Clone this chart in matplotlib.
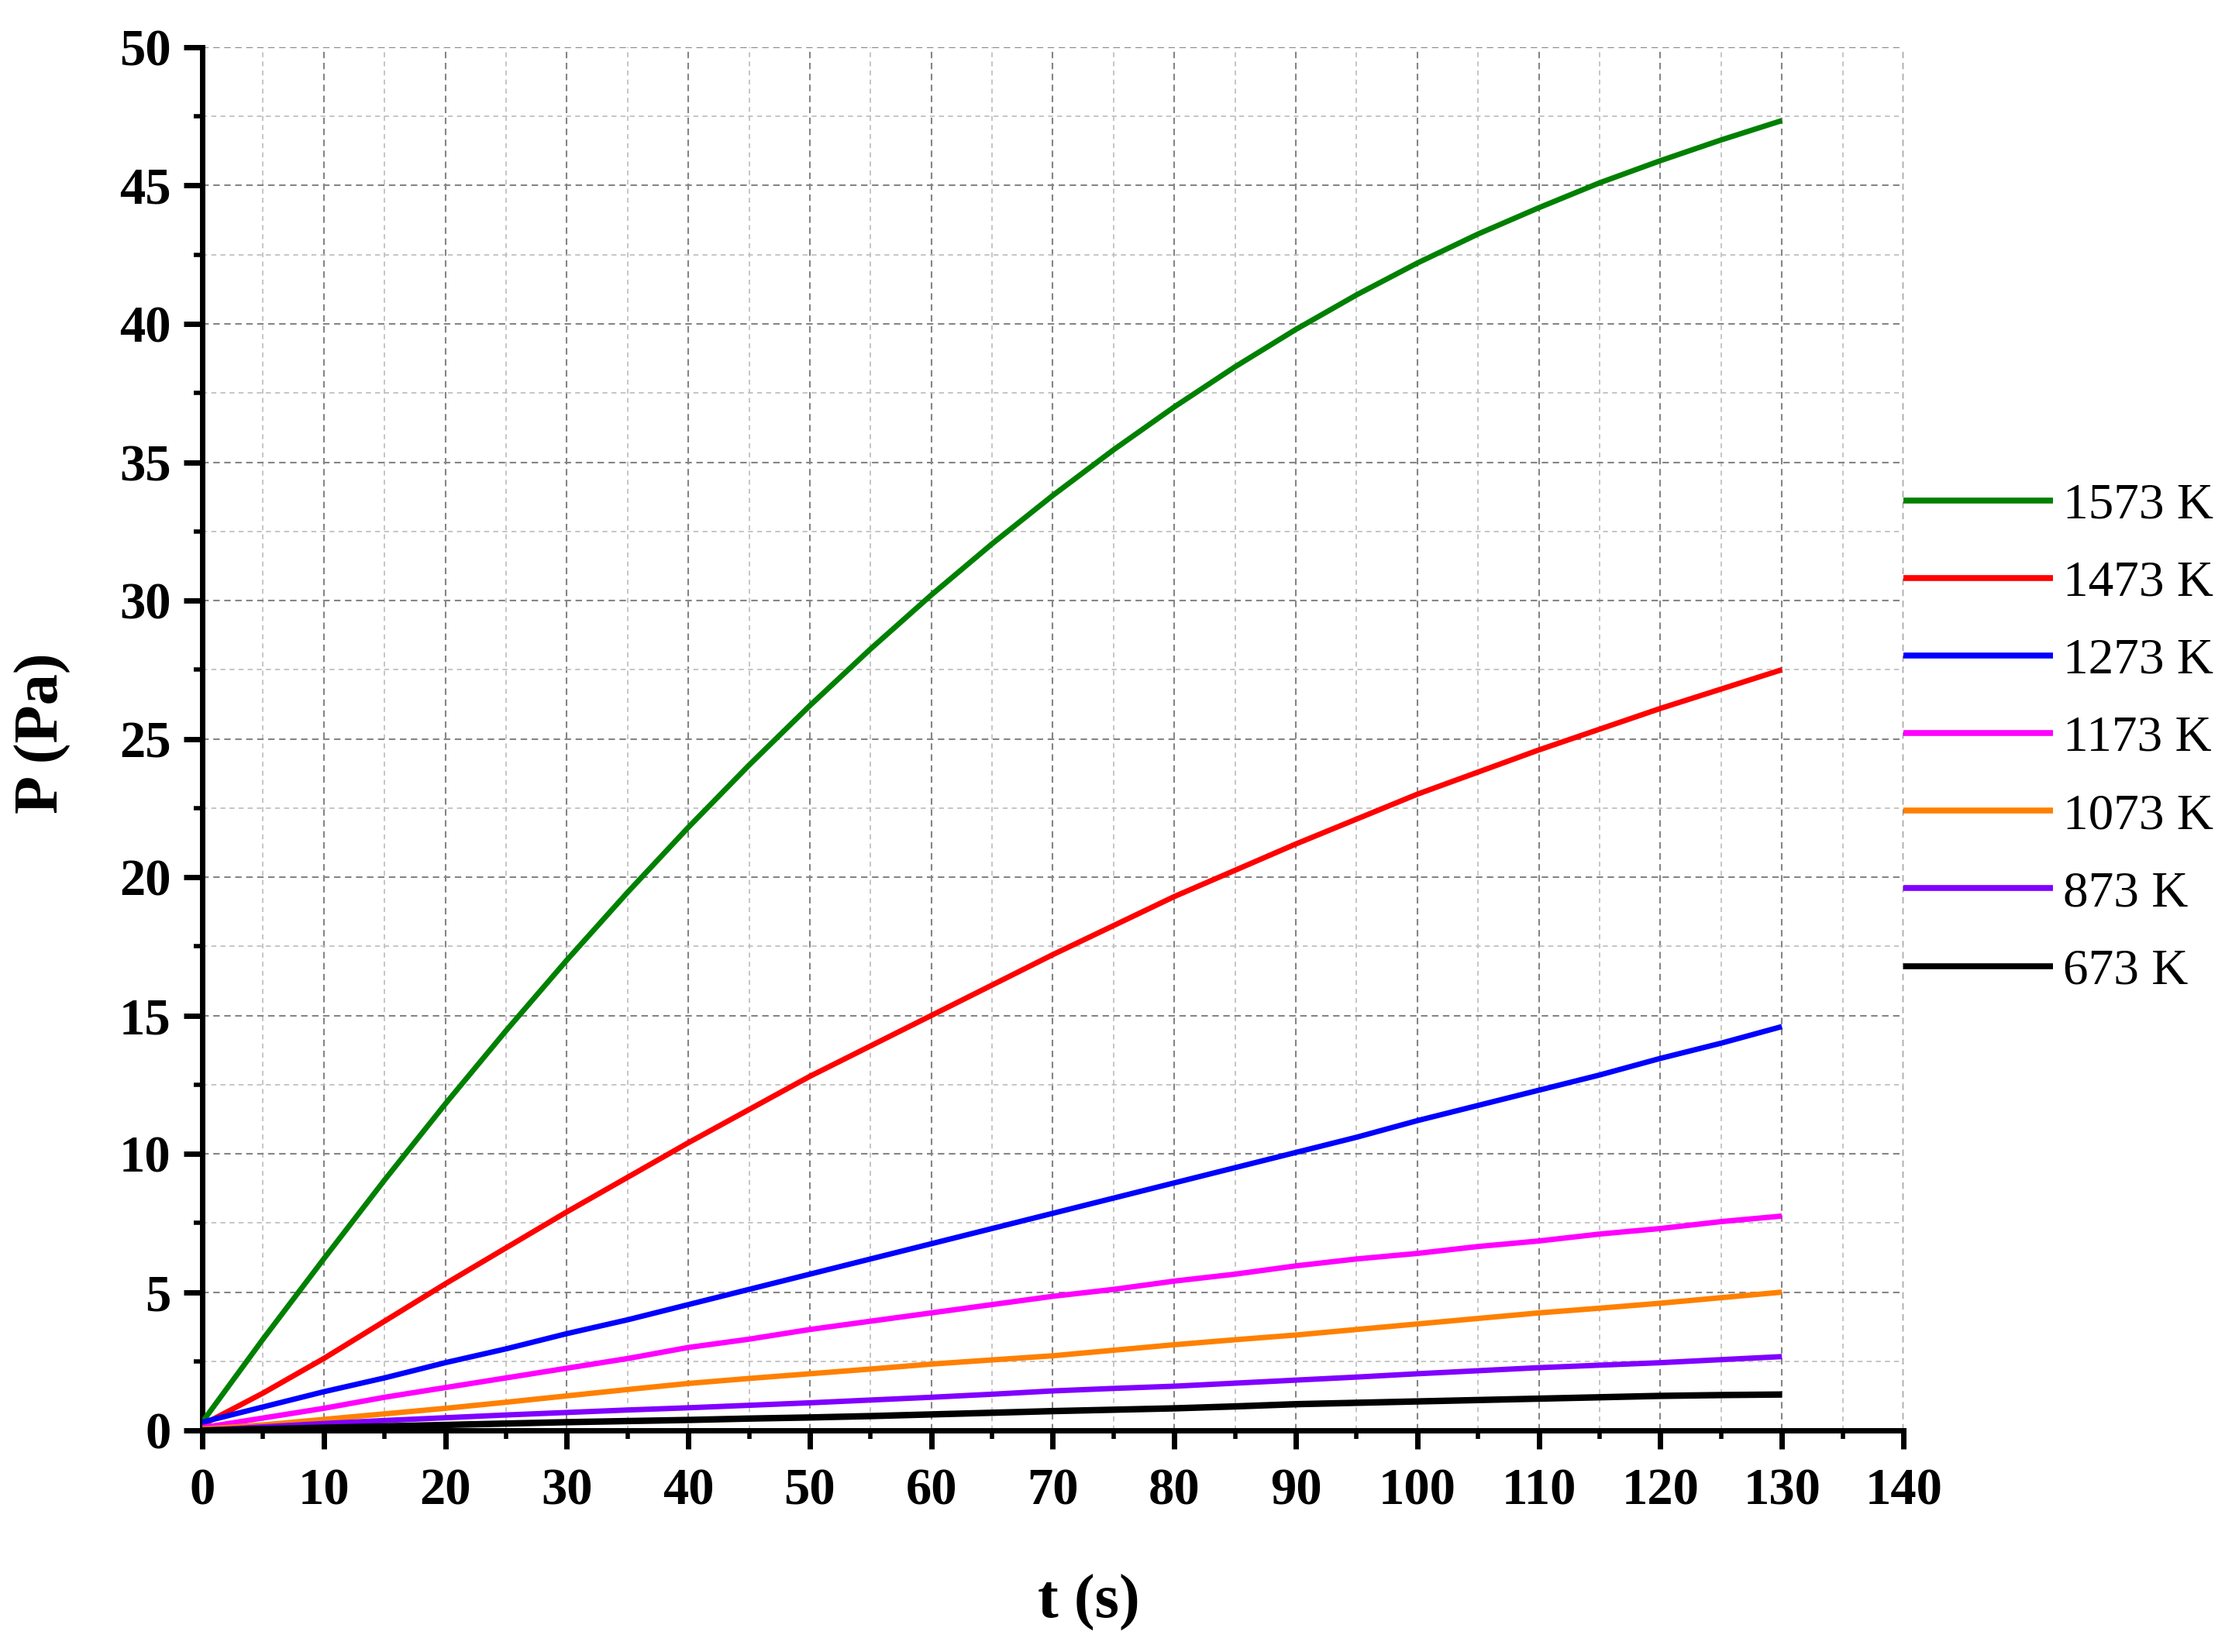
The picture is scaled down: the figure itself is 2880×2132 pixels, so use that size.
import matplotlib
matplotlib.use("Agg")
import matplotlib.pyplot as plt
from matplotlib.ticker import MultipleLocator

# ---- data ----
t = [0, 5, 10, 15, 20, 25, 30, 35, 40, 45, 50, 55, 60, 65,
     70, 75, 80, 85, 90, 95, 100, 105, 110, 115, 120, 125, 130]
p_1573 = [0.3, 3.3, 6.2, 9.05, 11.8, 14.45, 17.0, 19.45, 21.8, 24.05, 26.2, 28.25, 30.2, 32.05,
          33.8, 35.45, 37.0, 38.45, 39.8, 41.05, 42.2, 43.25, 44.2, 45.1, 45.9, 46.65, 47.35]
p_1473 = [0.2, 1.35, 2.6, 3.95, 5.3, 6.6, 7.9, 9.15, 10.4, 11.6, 12.8, 13.9, 15.0, 16.1,
          17.2, 18.25, 19.3, 20.25, 21.2, 22.1, 23.0, 23.8, 24.6, 25.35, 26.1, 26.8, 27.5]
p_1273 = [0.3, 0.85, 1.4, 1.9, 2.45, 2.95, 3.5, 4.0, 4.55, 5.1, 5.65, 6.2, 6.75, 7.3,
          7.85, 8.4, 8.95, 9.5, 10.05, 10.6, 11.2, 11.75, 12.3, 12.85, 13.45, 14.0, 14.6]
p_1173 = [0.1, 0.45, 0.8, 1.2, 1.55, 1.9, 2.25, 2.6, 3.0, 3.3, 3.65, 3.95, 4.25, 4.55,
          4.85, 5.1, 5.4, 5.65, 5.95, 6.2, 6.4, 6.65, 6.85, 7.1, 7.3, 7.55, 7.75]
p_1073 = [0.05, 0.2, 0.4, 0.6, 0.8, 1.02, 1.25, 1.48, 1.7, 1.88, 2.05, 2.22, 2.4, 2.55,
          2.7, 2.9, 3.1, 3.28, 3.45, 3.65, 3.85, 4.05, 4.25, 4.42, 4.6, 4.8, 5.0]
p_873 = [0.0, 0.13, 0.25, 0.36, 0.46, 0.56, 0.65, 0.74, 0.82, 0.91, 1.0, 1.1, 1.2, 1.31,
         1.43, 1.52, 1.6, 1.71, 1.82, 1.93, 2.05, 2.16, 2.27, 2.36, 2.45, 2.56, 2.67]
p_673 = [0.0, 0.05, 0.1, 0.15, 0.2, 0.25, 0.3, 0.34, 0.38, 0.43, 0.47, 0.52, 0.58, 0.64,
         0.7, 0.75, 0.8, 0.87, 0.95, 1.0, 1.05, 1.1, 1.15, 1.2, 1.25, 1.28, 1.3]

labels = ["1573 K", "1473 K", "1273 K", "1173 K", "1073 K", "873 K", "673 K"]
series = [p_1573, p_1473, p_1273, p_1173, p_1073, p_873, p_673]
colors = ["#008000", "#ff0000", "#0000ff", "#ff00ff", "#ff8000", "#8000ff", "#000000"]
widths = [5.0, 5.0, 5.0, 5.0, 5.0, 5.0, 6.0]

x_ticks = list(range(0, 141, 10))
y_ticks = list(range(0, 51, 5))

serif = ["Liberation Serif", "DejaVu Serif"]
plt.rcParams["font.family"] = serif

fig = plt.figure(figsize=(28.8, 21.32), dpi=100)
ax = fig.add_axes([0.0906, 0.1341, 0.8528 - 0.0906, 0.9714 - 0.1341])

for ys, lab, c, w in zip(series, labels, colors, widths):
    ax.plot(t, ys, color=c, lw=w, label=lab, solid_capstyle="butt",
            solid_joinstyle="round", zorder=3)

ax.set_xlim(0, 140)
ax.set_ylim(0, 50)
ax.set_xticks(x_ticks)
ax.set_yticks(y_ticks)
ax.xaxis.set_minor_locator(MultipleLocator(5))
ax.yaxis.set_minor_locator(MultipleLocator(2.5))

ax.grid(which="major", color="#858585", lw=1.5, ls=(0, (4, 2.8)), zorder=0)
ax.grid(which="minor", color="#c0c0c0", lw=1.3, ls=(0, (3.5, 3)), zorder=0)

for s in ["top", "right"]:
    ax.spines[s].set_visible(False)
for s in ["left", "bottom"]:
    ax.spines[s].set_linewidth(5)
    ax.spines[s].set_capstyle("projecting")

ax.tick_params(which="major", direction="out", length=17, width=5, labelsize=48, pad=12)
ax.tick_params(which="minor", direction="out", length=8, width=4)
ax.tick_params(axis="x", which="major", pad=18)
for lbl in ax.get_xticklabels() + ax.get_yticklabels():
    lbl.set_fontweight("bold")

ax.set_xlabel("t (s)", fontsize=58, fontweight="bold")
ax.set_ylabel("P (Pa)", fontsize=58, fontweight="bold")
ax.xaxis.set_label_coords(0.521, -0.104)
ax.yaxis.set_label_coords(-0.077, 0.504)

leg = fig.legend(loc="center left", bbox_to_anchor=(0.8528, 0.553), frameon=False,
                 fontsize=47, handlelength=2.95, handletextpad=0.2, labelspacing=0.62,
                 borderpad=0, borderaxespad=0)
for line in leg.get_lines():
    line.set_linewidth(5.5)

fig.savefig("out.png", dpi=100)
